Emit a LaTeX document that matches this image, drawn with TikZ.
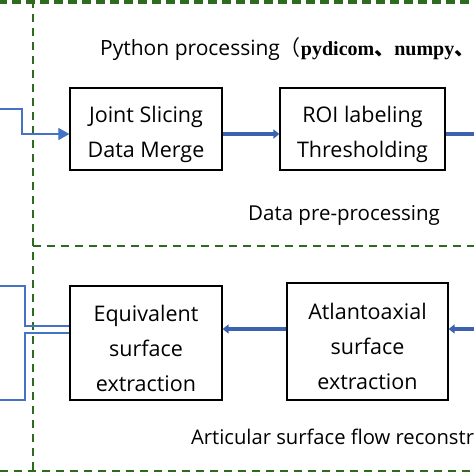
\documentclass[tikz,border=0pt]{standalone}
\usepackage{fontspec}
\setmainfont{Open Sans}
\newfontfamily\cjk{Noto Sans CJK SC}
\newfontfamily\tnr{Liberation Serif}
\usetikzlibrary{arrows.meta}
\definecolor{dgreen}{HTML}{2E6B1F}
\definecolor{tblue}{HTML}{4472C4}
\definecolor{kblue}{HTML}{3A62AE}
\tikzset{
  box/.style={draw=black, line width=1.2pt, inner sep=0pt},
  boxtext/.style={align=center, inner sep=0pt, font=\fontsize{21.5}{35}\selectfont},
  gframe/.style={draw=dgreen, line width=2.5pt, dash pattern=on 8pt off 6pt},
  gdash/.style={fill=dgreen},
  thin/.style={draw=tblue, line width=1.1pt},
  thick/.style={draw=kblue, line width=4.5pt, -{Triangle[length=6pt,width=9pt]}},
  label/.style={anchor=base west, inner sep=0pt}
}
\begin{document}
\begin{tikzpicture}[x=1pt,y=1pt]
\useasboundingbox (0,0) rectangle (474,-474);
\begin{scope}
\clip (0,0) rectangle (474,-474);
% frames
\foreach \i in {0,...,34} {\fill[gdash] (\i*14-2,-0.3) rectangle ++(9,-4);}
\draw[gframe] (33,0) -- (33,-472);
\draw[gframe] (33,-246) -- (474,-246);
\draw[gframe] (0,-471) -- (474,-471);
% boxes
\node[box, minimum width=152pt, minimum height=82pt] (b1) at (146,-129) {};
\node[box, minimum width=165pt, minimum height=82pt] (b2) at (362.5,-129) {};
\node[box, minimum width=152pt, minimum height=114pt] (b3) at (146,-343) {};
\node[box, minimum width=161pt, minimum height=117pt] (b4) at (367.5,-341.5) {};
\node[boxtext] (b1t) at ([yshift=-5pt]b1.center) {Joint Slicing\\Data Merge};
\node[boxtext] (b2t) at ([yshift=-5pt]b2.center) {ROI labeling\\Thresholding};
\node[boxtext] (b3t) at ([yshift=-5pt]b3.center) {Equivalent\\surface\\extraction};
\node[boxtext] (b4t) at ([yshift=-4.5pt]b4.center) {Atlantoaxial\\surface\\extraction};
% labels
\node[label, font=\fontsize{21}{24}\selectfont] (t1) at (100,-55) {Python processing{\cjk （}{\tnr\bfseries\fontsize{20}{24}\selectfont pydicom{\cjk 、}numpy{\cjk 、}si}};
\node[label, font=\fontsize{20.5}{24}\selectfont] (t2) at (248,-220) {Data pre-processing};
\node[label, font=\fontsize{20.2}{24}\selectfont] (t3) at (191,-444) {Articular surface flow reconstr};
% free ends
\coordinate (in1) at (0,-109);
\coordinate (in2) at (0,-286);
\coordinate (out2) at (0,-400);
\coordinate (r1) at (474,-134);
\coordinate (r2) at (474,-329);
% connectors
\draw[thin, -{Triangle[length=11pt,width=12pt]}] (in1) -- (22,-109) |- (b1.west |- r1);
\draw[thick] (b1.east |- r1) -- (b2.west |- r1);
\draw[thick, -] (b2.east |- r1) -- (r1);
\draw[thick] (r2) -- (b4.east |- r2);
\draw[thick] (b4.west |- r2) -- (b3.east |- r2);
\draw[thin] (in2) -- (25,-286) |- ([yshift=17pt]b3.west);
\draw[thin] ([yshift=10pt]b3.west) -| (25,-400) -- (out2);
\end{scope}
\end{tikzpicture}
\end{document}
